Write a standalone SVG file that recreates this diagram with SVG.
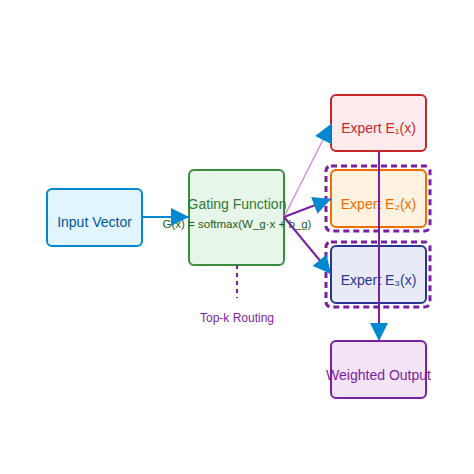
<svg xmlns="http://www.w3.org/2000/svg" width="474" height="474" viewBox="0 0 474 474">
<style>
.lbl{font-family:"Liberation Sans",Arial,sans-serif;font-size:14px;text-anchor:middle}
.box{stroke-width:2}
.hl{fill:none;stroke:#7b1fa2;stroke-width:3;stroke-dasharray:6,4}
.conn{fill:none;stroke-width:2}
</style>
<defs>
<marker id="ah" viewBox="0 0 10 10" refX="10" refY="5" markerWidth="18" markerHeight="18" markerUnits="userSpaceOnUse" orient="auto">
<path d="M0,0 L10,5 L0,10 z" fill="#0288d1"/>
</marker>
<marker id="ahb" viewBox="0 0 10 10" refX="10" refY="5" markerWidth="9" markerHeight="9" orient="auto">
<path d="M0,0 L10,5 L0,10 z" fill="#0288d1"/>
</marker>
</defs>
<rect width="474" height="474" fill="#ffffff"/>
<g id="highlights">
<rect class="hl" x="326" y="166" width="104" height="65" rx="5"/>
<rect class="hl" x="326" y="242" width="104" height="65" rx="5"/>
</g>
<g id="input">
<rect class="box" x="47" y="189" width="95" height="57" rx="5" fill="#e1f5fe" stroke="#0288d1"/>
<text class="lbl" x="94.5" y="227" fill="#01579b">Input Vector</text>
</g>
<g id="gating">
<rect class="box" x="189" y="170" width="95" height="95" rx="5" fill="#e8f5e9" stroke="#388e3c"/>
<text class="lbl" x="237" y="209" fill="#2e7d32">Gating Function</text>
<text class="lbl" x="237" y="228" fill="#1b5e20" style="font-size:11.5px">G(x) = softmax(W_g·x + b_g)</text>
</g>
<g id="expert1">
<rect class="box" x="331" y="95" width="95" height="56" rx="5" fill="#ffebee" stroke="#c62828"/>
<text class="lbl" x="378.5" y="133" fill="#c62828">Expert E₁(x)</text>
</g>
<g id="expert2">
<rect class="box" x="331" y="170" width="95" height="57" rx="5" fill="#fff3e0" stroke="#ef6c00"/>
<text class="lbl" x="378.5" y="209" fill="#ef6c00">Expert E₂(x)</text>
</g>
<g id="expert3">
<rect class="box" x="331" y="246" width="95" height="57" rx="5" fill="#e8eaf6" stroke="#283593"/>
<text class="lbl" x="378.5" y="285" fill="#283593">Expert E₃(x)</text>
</g>
<g id="output">
<rect class="box" x="331" y="341" width="95" height="57" rx="5" fill="#f3e5f5" stroke="#7b1fa2"/>
<text class="lbl" x="378.5" y="380" fill="#7b1fa2">Weighted Output</text>
</g>
<g id="connectors">
<line class="conn" x1="142" y1="217" x2="189" y2="217" stroke="#0288d1" marker-end="url(#ahb)"/>
<line x1="284" y1="217" x2="331" y2="124" stroke="#ce93d8" stroke-width="1.5" marker-end="url(#ah)"/>
<line class="conn" x1="284" y1="217" x2="331" y2="199" stroke="#7b1fa2" marker-end="url(#ahb)"/>
<line class="conn" x1="284" y1="217" x2="331" y2="274" stroke="#7b1fa2" marker-end="url(#ahb)"/>
<line class="conn" x1="379" y1="151" x2="379" y2="341" stroke="#7b1fa2" marker-end="url(#ahb)"/>
<line x1="237" y1="265" x2="237" y2="298" stroke="#7b1fa2" stroke-width="2" stroke-dasharray="4,4"/>
</g>
<g id="topk">
<text class="lbl" x="237" y="322" fill="#7b1fa2" style="font-size:12px">Top-k Routing</text>
</g>
</svg>
